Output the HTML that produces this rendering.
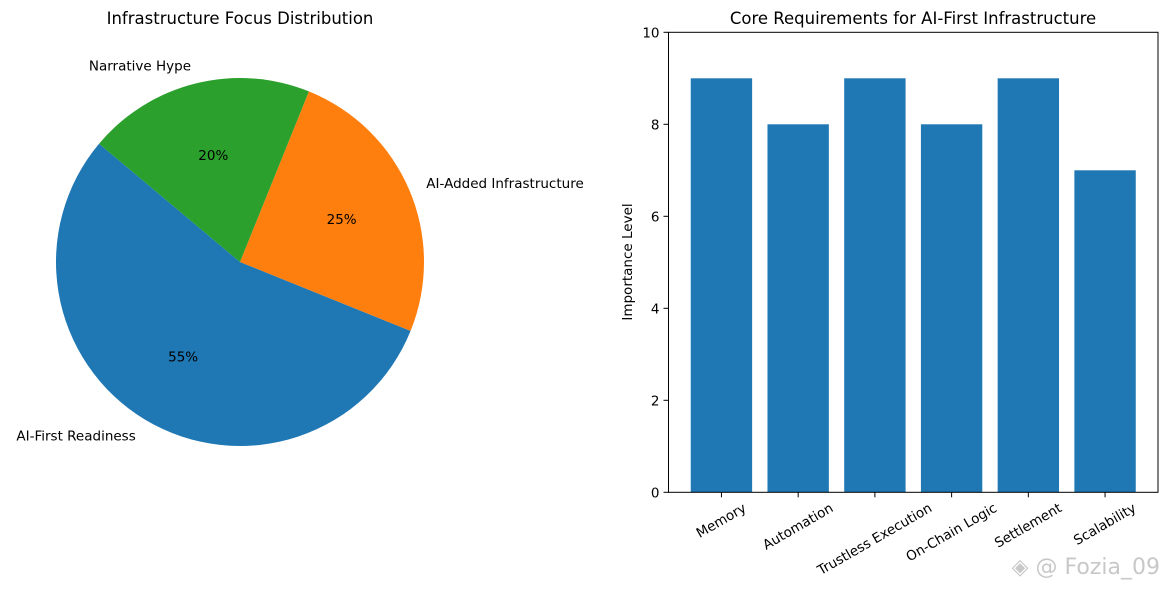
<!DOCTYPE html>
<html><head><meta charset="utf-8"><style>
body{margin:0;background:#fff;width:1168px;height:590px;overflow:hidden}
text{font-family:"DejaVu Sans","Liberation Sans",sans-serif}
</style></head><body>
<svg id="c" width="1168" height="590" xmlns="http://www.w3.org/2000/svg">
<text x="240" y="24" font-size="16.5" text-anchor="middle">Infrastructure Focus Distribution</text>
<g id="pie"></g>
<text x="913" y="24" font-size="16.5" text-anchor="middle">Core Requirements for AI-First Infrastructure</text>
<g id="bars"></g>
<text transform="translate(632,262) rotate(-90)" font-size="13.5" text-anchor="middle">Importance Level</text>
<text x="1160" y="574" font-size="22" fill="#c8c8c8" text-anchor="end">◈ @ Fozia_09</text>
</svg>
<script>
const pieLabels=["AI-First Readiness","AI-Added Infrastructure","Narrative Hype"];
const pieValues=[55,25,20];
const pieColors=["#1f77b4","#ff7f0e","#2ca02c"];
const barCats=["Memory","Automation","Trustless Execution","On-Chain Logic","Settlement","Scalability"];
const barValues=[9,8,9,8,9,7];
const yTicks=[0,2,4,6,8,10];
const NS="http://www.w3.org/2000/svg";
function mk(t,a,p){const e=document.createElementNS(NS,t);for(const k in a)e.setAttribute(k,a[k]);p.appendChild(e);return e;}
const FS=13.5;
// pie
const pg=document.getElementById('pie');
const cx=240,cy=262,R=184;let ang=140;const tot=pieValues.reduce((a,b)=>a+b,0);
function pt(a,r){const t=a*Math.PI/180;return [cx+r*Math.cos(t),cy-r*Math.sin(t)];}
pieValues.forEach((v,i)=>{
 const sw=v/tot*360,a0=ang,a1=ang+sw;const p0=pt(a0,R),p1=pt(a1,R);
 const s=mk('path',{d:`M${cx},${cy} L${p0[0]},${p0[1]} A${R},${R} 0 ${sw>180?1:0} 0 ${p1[0]},${p1[1]} Z`,fill:pieColors[i]},pg);
 
 
 const m=(a0+a1)/2;const pp=pt(m,R*0.6);
 const t=mk('text',{x:pp[0],y:pp[1]+5,'font-size':FS,'text-anchor':'middle'},pg);t.textContent=v+'%';
 
 
 const lp=pt(m,R*1.1);const c=Math.cos(m*Math.PI/180);
 const l=mk('text',{x:lp[0],y:lp[1]+5,'font-size':FS,'text-anchor':c<0?'end':'start'},pg);l.textContent=pieLabels[i];
 
 
 ang=a1;
});
// bars
const bg=document.getElementById('bars');
const X0=668.5,X1=1158,Y0=492.3,Y1=32.3,xmin=-0.69,xmax=5.69;
const xs=v=>X0+(v-xmin)/(xmax-xmin)*(X1-X0);
const ys=v=>Y0-(v/10)*(Y0-Y1);
barValues.forEach((v,i)=>{
 const b=mk('rect',{x:xs(i-0.4),y:ys(v),width:xs(i+0.4)-xs(i-0.4),height:Y0-ys(v),fill:'#1f77b4'},bg);
 
 
 const x=xs(i);mk('line',{x1:x,x2:x,y1:Y0,y2:Y0+5,stroke:'#000'},bg);
 const t=mk('text',{'font-size':FS,'text-anchor':'middle','dominant-baseline':'central'},bg);t.textContent=barCats[i];
 
 
 const w=t.getComputedTextLength();
 const cyl=Y0+9+(w*0.5+FS*0.87)/2;
 t.setAttribute('transform',`translate(${x},${cyl}) rotate(-30)`);
});
yTicks.forEach(v=>{
 const y=ys(v);mk('line',{x1:X0-5,x2:X0,y1:y,y2:y,stroke:'#000'},bg);
 const t=mk('text',{x:X0-9,y:y+5,'font-size':FS,'text-anchor':'end'},bg);t.textContent=v;
 
 
});
const fr=mk('rect',{x:X0,y:Y1,width:X1-X0,height:Y0-Y1,fill:'none',stroke:'#000','stroke-width':1},bg);


</script>
</body></html>
